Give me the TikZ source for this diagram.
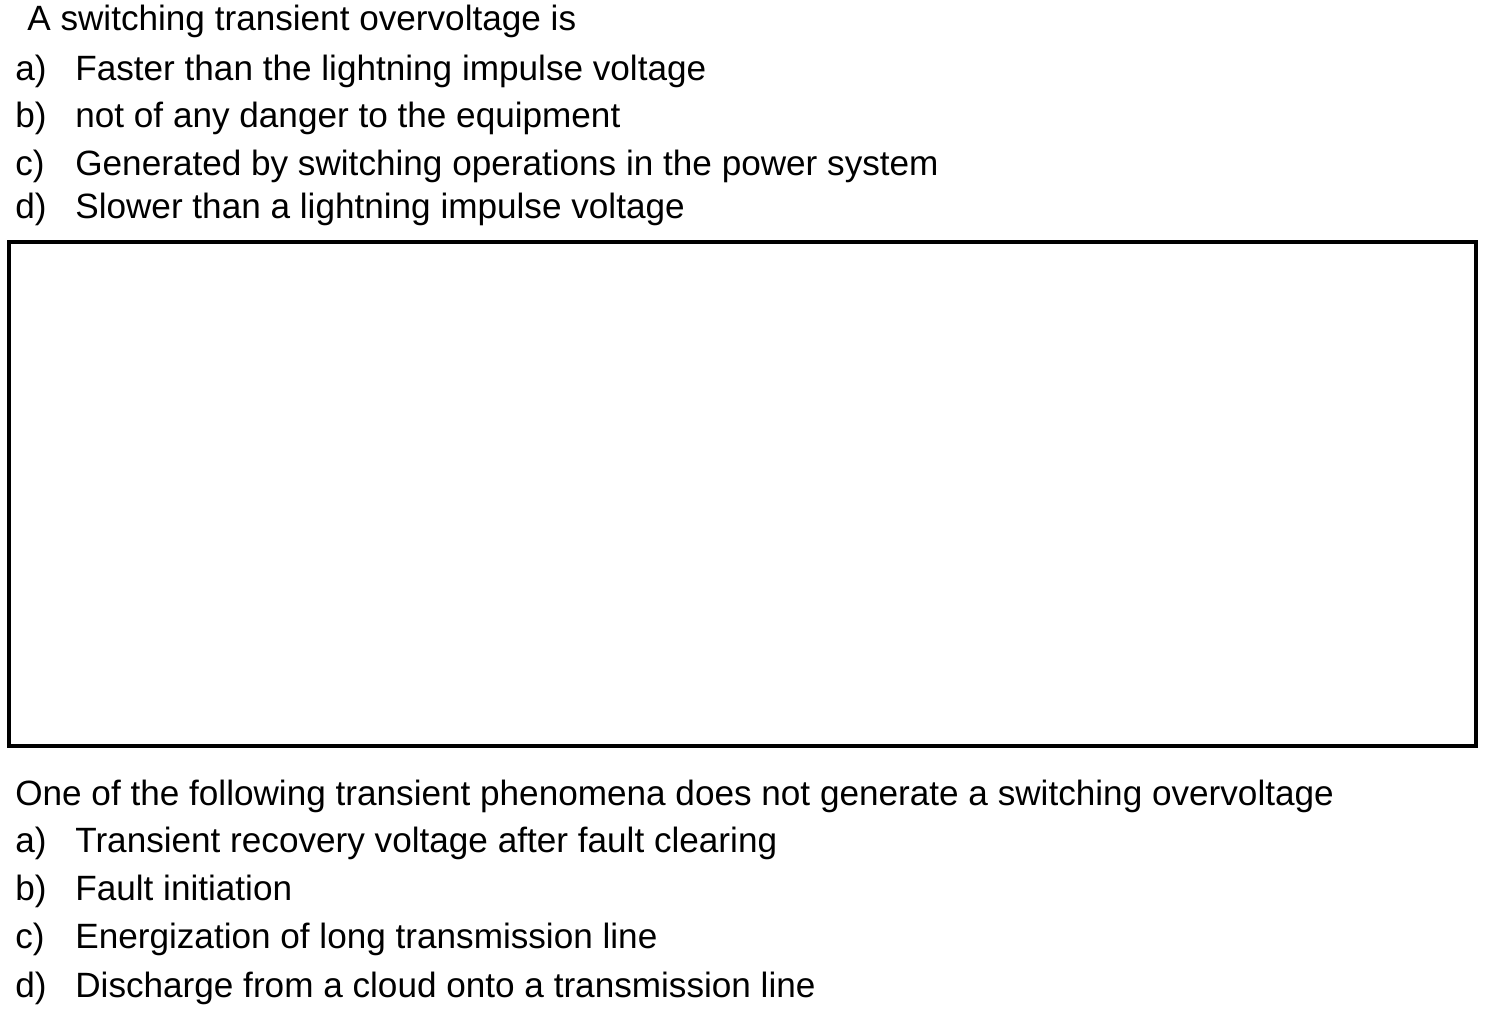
\documentclass[tikz,border=0pt]{standalone}
\usepackage{fontspec}
\setmainfont{Liberation Sans}
\begin{document}
\begin{tikzpicture}
[x=0.02cm,y=-0.02cm,
 txt/.style={anchor=base west,inner sep=0pt,font=\fontsize{20}{24}\selectfont},
 answerbox/.style={draw,line width=2.4pt}]
\useasboundingbox (0,0) rectangle (1502,1022);
% first question
\node[txt] (q1) at (27,30) {A switching transient overvoltage is};
\node[txt] (q1a) at (15,80) {a)};
\node[txt] (q1at) at (75,80) {Faster than the lightning impulse voltage};
\node[txt] (q1b) at (15,127) {b)};
\node[txt] (q1bt) at (75,127) {not of any danger to the equipment};
\node[txt] (q1c) at (15,175) {c)};
\node[txt] (q1ct) at (75,175) {Generated by switching operations in the power system};
\node[txt] (q1d) at (15,218) {d)};
\node[txt] (q1dt) at (75,218) {Slower than a lightning impulse voltage};
% empty box
\draw[answerbox] (9,242) rectangle (1476,746);
% second question
\node[txt] (q2) at (15,805) {One of the following transient phenomena does not generate a switching overvoltage};
\node[txt] (q2a) at (15,852) {a)};
\node[txt] (q2at) at (75,852) {Transient recovery voltage after fault clearing};
\node[txt] (q2b) at (15,900) {b)};
\node[txt] (q2bt) at (75,900) {Fault initiation};
\node[txt] (q2c) at (15,948) {c)};
\node[txt] (q2ct) at (75,948) {Energization of long transmission line};
\node[txt] (q2d) at (15,997) {d)};
\node[txt] (q2dt) at (75,997) {Discharge from a cloud onto a transmission line};
\end{tikzpicture}
\end{document}
